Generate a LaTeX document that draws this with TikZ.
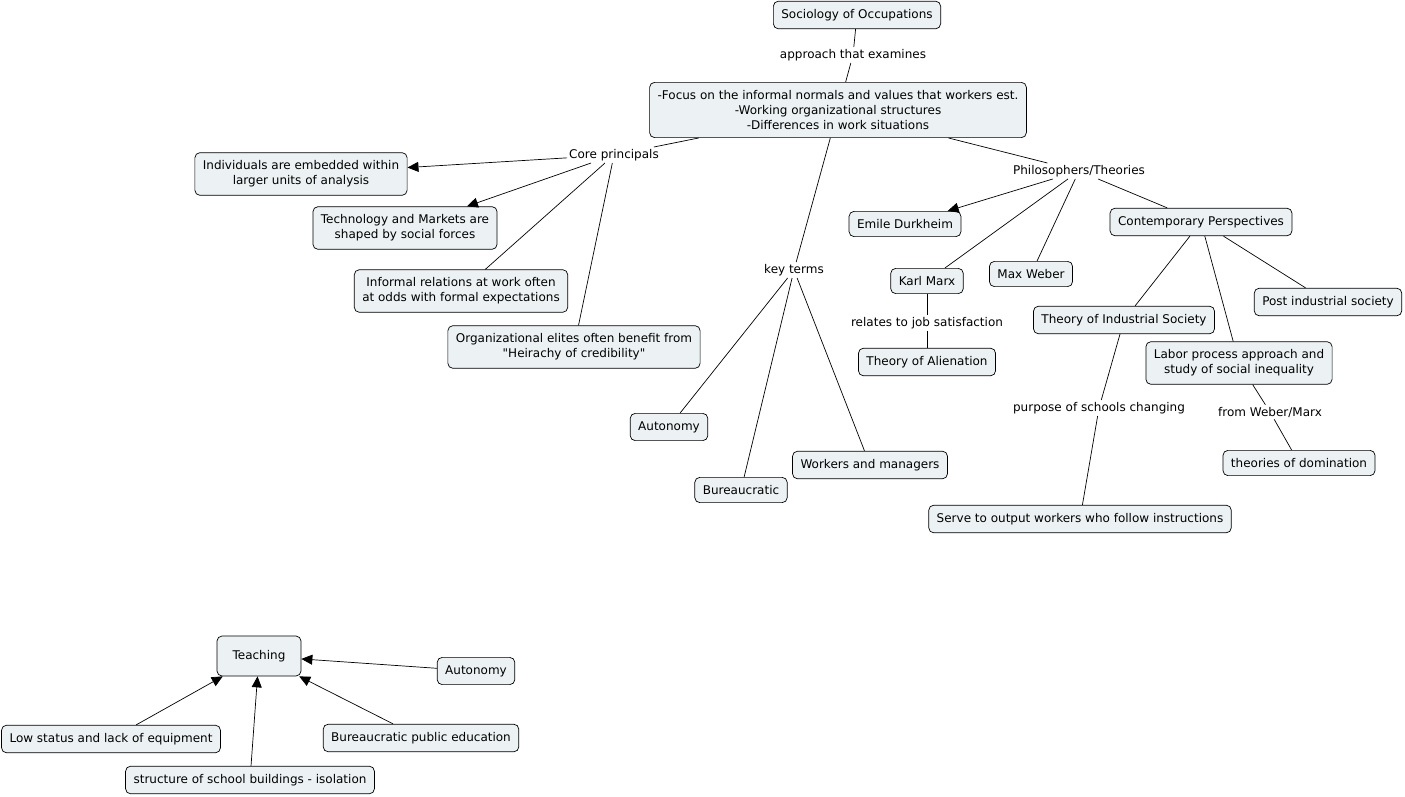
\documentclass[tikz,border=0pt]{standalone}
\usepackage{fontspec}
\setmainfont{DejaVu Sans}[Ligatures=TeXOff]
\usetikzlibrary{arrows.meta}
\definecolor{cmapfill}{RGB}{236,242,244}
\begin{document}
\begin{tikzpicture}[x=1pt, y=-1pt,
    concept/.style={draw, fill=cmapfill, rounded corners=5pt, line width=0.7pt,
        inner xsep=8pt, inner ysep=8pt, align=center,
        font=\fontsize{12}{15}\selectfont},
    linkword/.style={inner sep=2pt, font=\fontsize{12}{15}\selectfont},
    conn/.style={line width=0.7pt},
    arr/.style={line width=0.7pt, -{Triangle[length=11pt, width=10pt]}}]
    \useasboundingbox (0,0) rectangle (1405,797);

    % Nodo central
    \node[concept] (soc) at (857,15) {Sociology of Occupations};
    \node[linkword] (approach) at (853,55) {approach that examines};
    \node[concept] (focus) at (838,110) {-Focus on the informal normals and values that workers est.\\-Working organizational structures\\-Differences in work situations};
    \draw[conn] (soc) -- (approach);
    \draw[conn] (approach) -- (focus);

    % Principios
    \node[linkword] (core) at (614,155) {Core principals};
    \node[concept] (indiv) at (301,174) {Individuals are embedded within\\larger units of analysis};
    \node[concept] (tech) at (405,228) {Technology and Markets are\\shaped by social forces};
    \node[concept] (informal) at (461,291) {Informal relations at work often\\at odds with formal expectations};
    \node[concept] (elites) at (574,347) {Organizational elites often benefit from\\"Heirachy of credibility"};
    \draw[conn] (focus) -- (core);
    \draw[arr] (core) -- (indiv);
    \draw[arr] (core) -- (tech);
    \draw[conn] (core) -- (informal);
    \draw[conn] (core) -- (elites);

    % Terminos clave
    \node[linkword] (keyterms) at (794,270) {key terms};
    \node[concept] (auto) at (669,427) {Autonomy};
    \node[concept] (bureau) at (741,490) {Bureaucratic};
    \node[concept] (workers) at (870,465) {Workers and managers};
    \draw[conn] (focus) -- (keyterms);
    \draw[conn] (keyterms) -- (auto);
    \draw[conn] (keyterms) -- (bureau);
    \draw[conn] (keyterms) -- (workers);

    % Filosofos y teorias
    \node[linkword] (philo) at (1079,171) {Philosophers/Theories};
    \node[concept] (durkheim) at (905,224) {Emile Durkheim};
    \node[concept] (marx) at (927,281) {Karl Marx};
    \node[concept] (weber) at (1031,274) {Max Weber};
    \node[concept] (contemp) at (1201,222) {Contemporary Perspectives};
    \draw[conn] (focus) -- (philo);
    \draw[arr] (philo) -- (durkheim);
    \draw[conn] (philo) -- (marx);
    \draw[conn] (philo) -- (weber);
    \draw[conn] (philo) -- (contemp);

    \node[linkword] (relates) at (927,323) {relates to job satisfaction};
    \node[concept] (alien) at (927,362) {Theory of Alienation};
    \draw[conn] (marx) -- (relates);
    \draw[conn] (relates) -- (alien);

    \node[concept] (industrial) at (1124,320) {Theory of Industrial Society};
    \node[concept] (postind) at (1328,302) {Post industrial society};
    \node[concept] (labor) at (1239,363) {Labor process approach and\\study of social inequality};
    \draw[conn] (contemp) -- (industrial);
    \draw[conn] (contemp) -- (postind);
    \draw[conn] (contemp) -- (labor);

    \node[linkword] (purpose) at (1099,408) {purpose of schools changing};
    \node[concept] (serve) at (1080,519) {Serve to output workers who follow instructions};
    \draw[conn] (industrial) -- (purpose);
    \draw[conn] (purpose) -- (serve);

    \node[linkword] (fromwm) at (1270,412) {from Weber/Marx};
    \node[concept] (domin) at (1299,463) {theories of domination};
    \draw[conn] (labor) -- (fromwm);
    \draw[conn] (fromwm) -- (domin);

    % Ensenanza
    \node[concept, minimum width=84pt, minimum height=40pt] (teach) at (259,656) {Teaching};
    \node[concept] (auto2) at (476,671) {Autonomy};
    \node[concept] (lowstat) at (111,739) {Low status and lack of equipment};
    \node[concept] (pubedu) at (421,738) {Bureaucratic public education};
    \node[concept] (struct) at (250,780) {structure of school buildings - isolation};
    \draw[arr] (auto2) -- (teach);
    \draw[arr] (lowstat) -- (teach);
    \draw[arr] (pubedu) -- (teach);
    \draw[arr] (struct) -- (teach);
\end{tikzpicture}
\end{document}
